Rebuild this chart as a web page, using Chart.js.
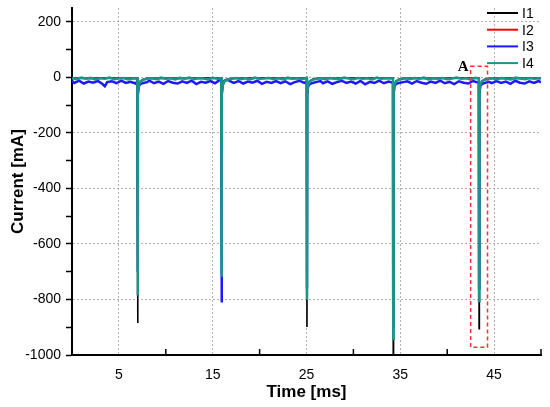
<!DOCTYPE html>
<html>
<head>
<meta charset="utf-8">
<script src="https://cdn.jsdelivr.net/npm/chart.js@4.4.0/dist/chart.umd.min.js"></script>
<style>
    body { margin: 0; background: #fff; }
    canvas { display: block; }
</style>
</head>
<body>
<canvas id="grafico" width="550" height="407"></canvas>
<script>
// I1 (preto) - linha de base + 5 picos
var tempoI1 = [
    0, 2, 4, 6, 6.97,
    7.0, 7.03, 7.12, 7.3, 7.6, 8,
    10, 12, 14, 15.92,
    15.95, 15.98, 16.07, 16.25, 16.55, 17,
    19, 21, 23, 25.02,
    25.05, 25.08, 25.17, 25.35, 25.65, 26.1,
    28, 30, 32, 34.22,
    34.25, 34.28, 34.37, 34.55, 34.85, 35.3,
    37, 39, 41, 43.37,
    43.4, 43.43, 43.52, 43.7, 44, 44.45,
    46, 48, 50
]
var correnteI1 = [
    -3, -4, -2, -4, -3,
    -885, -60, -28, -14, -7, -4,
    -3, -4, -2, -3,
    -700, -60, -28, -14, -7, -4,
    -3, -2, -4, -3,
    -899, -60, -28, -14, -7, -4,
    -4, -2, -3, -3,
    -1010, -60, -28, -14, -7, -4,
    -3, -4, -2, -3,
    -905, -60, -28, -14, -7, -4,
    -3, -4, -3
]

// I2 (vermelho) - fica escondido atras das outras
var tempoI2 = [
    0, 6.97, 7.0, 7.03, 7.12, 7.3, 7.6, 8,
    15.92, 15.95, 15.98, 16.07, 16.25, 16.55, 17,
    25.02, 25.05, 25.08, 25.17, 25.35, 25.65, 26.1,
    34.22, 34.25, 34.28, 34.37, 34.55, 34.85, 35.3,
    43.37, 43.4, 43.43, 43.52, 43.7, 44, 44.45,
    50
]
var correnteI2 = [
    -2, -2, -600, -58, -27, -13, -7, -3,
    -2, -550, -58, -27, -13, -7, -3,
    -2, -620, -58, -27, -13, -7, -3,
    -2, -700, -58, -27, -13, -7, -3,
    -2, -600, -58, -27, -13, -7, -3,
    -2
]

// I3 (azul)
var tempoI3 = [
    0, 0.25, 0.75, 1.25, 1.75, 2.25, 2.75, 3.25, 3.5, 3.75, 4.25, 4.75, 5.25, 5.75, 6.25, 6.75, 6.97,
    7.0, 7.03, 7.12, 7.3, 7.6, 8,
    8.25, 8.75, 9.25, 9.75, 10.25, 10.75, 11.25, 11.75, 12.25, 12.75, 13.25, 13.75, 14.25, 14.75, 15.25, 15.75, 15.92,
    15.95, 15.98, 16.07, 16.25, 16.55, 17,
    17.25, 17.75, 18.25, 18.75, 19.25, 19.75, 20.25, 20.75, 21.25, 21.75, 22.25, 22.75, 23.25, 23.75, 24.25, 24.75, 25.02,
    25.05, 25.08, 25.17, 25.35, 25.65, 26.1,
    26.5, 26.75, 27.25, 27.75, 28.25, 28.75, 29.25, 29.75, 30.25, 30.75, 31.25, 31.75, 32.25, 32.75, 33.25, 33.75, 34.22,
    34.25, 34.28, 34.37, 34.55, 34.85, 35.3,
    35.75, 36.25, 36.75, 37.25, 37.75, 38.25, 38.75, 39.25, 39.75, 40.25, 40.75, 41.25, 41.75, 42.25, 42.75, 43.25, 43.37,
    43.4, 43.43, 43.52, 43.7, 44, 44.45,
    44.75, 45.25, 45.75, 46.25, 46.75, 47.25, 47.75, 48.25, 48.75, 49.25, 49.75, 50
]
var correnteI3 = [
    -13, -20, -12, -22, -15, -19, -13, -24, -32, -17, -14, -21, -12, -20, -16, -22, -14,
    -700, -62, -32, -24, -20, -17,
    -12, -21, -15, -23, -13, -19, -22, -14, -20, -12, -24, -16, -19, -13, -21, -9, -6,
    -811, -60, -25, -12, -8, -16,
    -20, -13, -22, -15, -19, -12, -23, -16, -20, -13, -21, -14, -24, -17, -12, -20, -15,
    -760, -62, -32, -24, -20, -16,
    -13, -21, -14, -23, -17, -12, -20, -15, -22, -13, -25, -16, -20, -12, -21, -15, -19,
    -900, -62, -32, -24, -20, -17,
    -14, -22, -13, -19, -23, -15, -20, -12, -21, -16, -24, -14, -19, -22, -13, -18, -15,
    -760, -62, -32, -24, -20, -16,
    -21, -13, -20, -15, -23, -12, -19, -22, -14, -20, -13, -18
]

// I4 (verde-azulado) - desenhada por cima
var tempoI4 = [
    0, 0.5, 1, 1.5, 2, 2.5, 3, 3.5, 4, 4.5, 5, 5.5, 6, 6.5, 6.97,
    7.0, 7.03, 7.12, 7.3, 7.6, 8,
    8.5, 9, 9.5, 10, 10.5, 11, 11.5, 12, 12.5, 13, 13.5, 14, 14.5, 15, 15.5, 15.92,
    15.95, 15.98, 16.07, 16.25, 16.55, 17,
    17.5, 18, 18.5, 19, 19.5, 20, 20.5, 21, 21.5, 22, 22.5, 23, 23.5, 24, 24.5, 25.02,
    25.05, 25.08, 25.17, 25.35, 25.65, 26.1,
    26.5, 27, 27.5, 28, 28.5, 29, 29.5, 30, 30.5, 31, 31.5, 32, 32.5, 33, 33.5, 34.22,
    34.25, 34.28, 34.37, 34.55, 34.85, 35.3,
    35.7, 36, 36.5, 37, 37.5, 38, 38.5, 39, 39.5, 40, 40.5, 41, 41.5, 42, 42.5, 43, 43.37,
    43.4, 43.43, 43.52, 43.7, 44, 44.45,
    44.8, 45.3, 45.8, 46.3, 46.8, 47.3, 47.8, 48.3, 48.8, 49.3, 49.7, 50
]
var correnteI4 = [
    -3, -6, -1, -5, -2, -7, -3, -5, -1, -6, -4, -2, -7, -3, -4,
    -786, -60, -28, -14, -8, -5,
    -3, -6, -1, -5, -3, -7, -2, -5, -1, -6, -3, -4, -7, -2, -5, -3,
    -718, -60, -28, -14, -8, -5,
    -2, -6, -3, -7, -1, -5, -4, -2, -6, -3, -7, -1, -5, -3, -6, -2,
    -801, -60, -28, -14, -8, -5,
    -3, -6, -2, -5, -7, -1, -4, -6, -2, -5, -3, -7, -1, -5, -3, -4,
    -942, -60, -28, -14, -8, -5,
    -3, -6, -2, -5, -1, -7, -3, -5, -2, -6, -4, -1, -5, -3, -7, -2, -4,
    -805, -60, -28, -14, -8, -5,
    -3, -6, -2, -5, -7, -1, -4, -6, -2, -5, -3, -4
]

// eixos
var ticksTempo = [5, 15, 25, 35, 45]
var marcasCorrente = [200, 100, 0, -100, -200, -300, -400, -500, -600, -700, -800, -900, -1000]
var ticksCorrente = [200, 0, -200, -400, -600, -800, -1000]

// destaque "A"
var caixaTempo = [42.5, 44.3]
var caixaCorrente = [40, -972]
var caixaTexto = "A"

var nomes = ["I1", "I2", "I3", "I4"]
var cores = ["#000000", "#ff0000", "#1a1aff", "#1e9488"]

function juntar(tempo, corrente) {
    return tempo.map((t, i) => ({ x: t, y: corrente[i] }))
}

var fonte = "'Liberation Sans', Arial, sans-serif"

// desenha ticks internos do eixo x, a caixa tracejada e a legenda
const extras = {
    id: 'extras',
    afterDatasetsDraw(chart) {
        const ctx = chart.ctx
        const area = chart.chartArea
        const x = chart.scales.x
        const y = chart.scales.y

        ctx.save()
        ctx.strokeStyle = '#000'
        ctx.lineWidth = 1.5
        x.ticks.forEach(t => {
            if (ticksTempo.indexOf(t.value) >= 0 || t.value === 0) return
            const px = x.getPixelForValue(t.value)
            ctx.beginPath()
            ctx.moveTo(px, area.bottom)
            ctx.lineTo(px, area.bottom - 6)
            ctx.stroke()
        })

        // caixa A
        const x1 = x.getPixelForValue(caixaTempo[0])
        const x2 = x.getPixelForValue(caixaTempo[1])
        const y1 = y.getPixelForValue(caixaCorrente[0])
        const y2 = y.getPixelForValue(caixaCorrente[1])
        ctx.strokeStyle = '#ff3030'
        ctx.lineWidth = 1.5
        ctx.setLineDash([4, 3])
        ctx.strokeRect(x1, y1, x2 - x1, y2 - y1)
        ctx.setLineDash([])
        ctx.fillStyle = '#000'
        ctx.font = "bold 15px 'Liberation Serif', 'DejaVu Serif', serif"
        ctx.textAlign = 'right'
        ctx.textBaseline = 'alphabetic'
        ctx.fillText(caixaTexto, x1 - 2, y1 + 5)

        // legenda
        ctx.font = "14px " + fonte
        ctx.textAlign = 'left'
        ctx.textBaseline = 'middle'
        for (var i = 0; i < nomes.length; i++) {
            var ly = area.top + 5 + i * 16.7
            ctx.strokeStyle = cores[i]
            ctx.lineWidth = 2
            ctx.beginPath()
            ctx.moveTo(area.right - 54, ly)
            ctx.lineTo(area.right - 23, ly)
            ctx.stroke()
            ctx.fillStyle = '#000'
            ctx.fillText(nomes[i], area.right - 19, ly + 1)
        }
        ctx.restore()
    }
}

const datasets = [
    { label: nomes[0], data: juntar(tempoI1, correnteI1), borderColor: cores[0], backgroundColor: cores[0], borderWidth: 1.6, order: 1 },
    { label: nomes[1], data: juntar(tempoI2, correnteI2), borderColor: cores[1], backgroundColor: cores[1], borderWidth: 1.4, order: 3 },
    { label: nomes[2], data: juntar(tempoI3, correnteI3), borderColor: cores[2], backgroundColor: cores[2], borderWidth: 2.5, order: 2 },
    { label: nomes[3], data: juntar(tempoI4, correnteI4), borderColor: cores[3], backgroundColor: cores[3], borderWidth: 2.6, order: 0 }
]

new Chart(document.getElementById("grafico"), {
    type: 'line',
    data: { datasets: datasets },
    options: {
        responsive: false,
        animation: false,
        devicePixelRatio: 1,
        elements: { point: { radius: 0 }, line: { tension: 0 } },
        layout: { padding: { top: 8, right: 9, left: 0, bottom: 0 } },
        plugins: { legend: { display: false }, tooltip: { enabled: false } },
        scales: {
            x: {
                type: 'linear',
                min: 0,
                max: 50,
                afterFit(scale) {
                    scale.height = 52
                    scale.paddingLeft = 0
                    scale.paddingRight = 0
                },
                ticks: {
                    stepSize: 5,
                    autoSkip: false,
                    maxRotation: 0,
                    padding: 12,
                    color: '#000',
                    font: { size: 14, family: fonte },
                    callback: v => ticksTempo.indexOf(v) >= 0 ? v : ''
                },
                grid: {
                    drawTicks: false,
                    lineWidth: 1,
                    color: c => (c.tick && ticksTempo.indexOf(c.tick.value) >= 0) ? '#b0b0b0' : 'rgba(0,0,0,0)'
                },
                border: { color: '#000', width: 2, dash: [2, 2] },
                title: {
                    display: true,
                    text: 'Time [ms]',
                    color: '#000',
                    font: { size: 17, weight: 'bold', family: fonte },
                    padding: { top: 0, bottom: 4 }
                }
            },
            y: {
                min: -1000,
                max: 250,
                afterBuildTicks(scale) {
                    scale.ticks = marcasCorrente.map(v => ({ value: v }))
                },
                afterFit(scale) {
                    scale.width = 72
                    scale.paddingTop = 0
                    scale.paddingBottom = 0
                },
                ticks: {
                    padding: 5,
                    autoSkip: false,
                    color: '#000',
                    font: { size: 14, family: fonte },
                    callback: v => ticksCorrente.indexOf(v) >= 0 ? v : ''
                },
                grid: {
                    tickLength: 6,
                    tickWidth: 1.5,
                    lineWidth: 1,
                    tickColor: '#000',
                    color: c => (c.tick && ticksCorrente.indexOf(c.tick.value) >= 0 && c.tick.value !== -1000) ? '#b0b0b0' : 'rgba(0,0,0,0)'
                },
                border: { color: '#000', width: 2, dash: [2, 2] },
                title: {
                    display: true,
                    text: 'Current [mA]',
                    color: '#000',
                    font: { size: 17, weight: 'bold', family: fonte },
                    padding: { top: 8, bottom: 0 }
                }
            }
        }
    },
    plugins: [extras]
})
</script>
</body>
</html>
